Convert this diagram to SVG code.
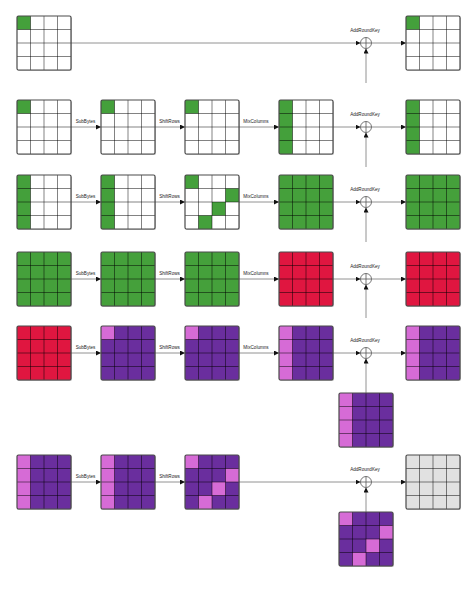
<svg xmlns="http://www.w3.org/2000/svg" xmlns:xlink="http://www.w3.org/1999/xlink" width="474" height="603" viewBox="0 0 474 603">
<style>
.w{fill:#ffffff}.g{fill:#44a03b}.r{fill:#e0163f}.p{fill:#6a2d9e}.k{fill:#d66bd6}.s{fill:#e1e1e1}
.base{filter:url(#sh)}
.lbl{font-family:"Liberation Sans",Arial,sans-serif;font-size:4.6px;fill:#222;text-anchor:middle}
.c{stroke:#777;stroke-width:0.8;fill:none}
.x{fill:#fff;stroke:#555;stroke-width:0.8}
</style>
<defs>
<filter id="sh" x="-10%" y="-10%" width="125%" height="125%"><feDropShadow dx="0.6" dy="0.8" stdDeviation="0.7" flood-color="#000" flood-opacity="0.35"/></filter>
<marker id="ar" viewBox="0 0 10 10" refX="10" refY="5" markerWidth="5" markerHeight="5" markerUnits="userSpaceOnUse" orient="auto"><path d="M0,0L10,5L0,10z" fill="#111"/></marker>
<g id="L"><path d="M13.5,0V54M27,0V54M40.5,0V54M0,13.5H54M0,27H54M0,40.5H54" stroke="#000" stroke-opacity="0.55" stroke-width="0.9" fill="none"/><rect x="0" y="0" width="54" height="54" rx="1.5" fill="none" stroke="#4a4a4a" stroke-width="1.2"/></g>
<path id="xo" d="M-5.5,0H5.5M0,-5.5V5.5" stroke="#555" stroke-width="0.8"/>
</defs>

<g id="connectors">
<!-- row 1 -->
<path class="c" d="M71,43H360.5" marker-end="url(#ar)"/>
<path class="c" d="M371.5,43H406" marker-end="url(#ar)"/>
<path class="c" d="M366,83V48.5" marker-end="url(#ar)"/>
<!-- row 2 -->
<path class="c" d="M71,127H101" marker-end="url(#ar)"/>
<path class="c" d="M155,127H185" marker-end="url(#ar)"/>
<path class="c" d="M239,127H279" marker-end="url(#ar)"/>
<path class="c" d="M333,127H360.5" marker-end="url(#ar)"/>
<path class="c" d="M371.5,127H406" marker-end="url(#ar)"/>
<path class="c" d="M366,167V132.5" marker-end="url(#ar)"/>
<!-- row 3 -->
<path class="c" d="M71,202H101" marker-end="url(#ar)"/>
<path class="c" d="M155,202H185" marker-end="url(#ar)"/>
<path class="c" d="M239,202H279" marker-end="url(#ar)"/>
<path class="c" d="M333,202H360.5" marker-end="url(#ar)"/>
<path class="c" d="M371.5,202H406" marker-end="url(#ar)"/>
<path class="c" d="M366,242V207.5" marker-end="url(#ar)"/>
<!-- row 4 -->
<path class="c" d="M71,279H101" marker-end="url(#ar)"/>
<path class="c" d="M155,279H185" marker-end="url(#ar)"/>
<path class="c" d="M239,279H279" marker-end="url(#ar)"/>
<path class="c" d="M333,279H360.5" marker-end="url(#ar)"/>
<path class="c" d="M371.5,279H406" marker-end="url(#ar)"/>
<path class="c" d="M366,318V284.5" marker-end="url(#ar)"/>
<!-- row 5 -->
<path class="c" d="M71,353H101" marker-end="url(#ar)"/>
<path class="c" d="M155,353H185" marker-end="url(#ar)"/>
<path class="c" d="M239,353H279" marker-end="url(#ar)"/>
<path class="c" d="M333,353H360.5" marker-end="url(#ar)"/>
<path class="c" d="M371.5,353H406" marker-end="url(#ar)"/>
<path class="c" d="M366,393V358.5" marker-end="url(#ar)"/>
<!-- row 6 -->
<path class="c" d="M71,482H101" marker-end="url(#ar)"/>
<path class="c" d="M155,482H185" marker-end="url(#ar)"/>
<path class="c" d="M239,482H360.5" marker-end="url(#ar)"/>
<path class="c" d="M371.5,482H406" marker-end="url(#ar)"/>
<path class="c" d="M366,512V487.5" marker-end="url(#ar)"/>
</g>

<g id="labels">
<text class="lbl" x="85.5" y="122.5">SubBytes</text>
<text class="lbl" x="169.5" y="122.5">ShiftRows</text>
<text class="lbl" x="256" y="122.5">MixColumns</text>
<text class="lbl" x="85.5" y="197.5">SubBytes</text>
<text class="lbl" x="169.5" y="197.5">ShiftRows</text>
<text class="lbl" x="256" y="197.5">MixColumns</text>
<text class="lbl" x="85.5" y="274.5">SubBytes</text>
<text class="lbl" x="169.5" y="274.5">ShiftRows</text>
<text class="lbl" x="256" y="274.5">MixColumns</text>
<text class="lbl" x="85.5" y="348.5">SubBytes</text>
<text class="lbl" x="169.5" y="348.5">ShiftRows</text>
<text class="lbl" x="256" y="348.5">MixColumns</text>
<text class="lbl" x="85.5" y="477.5">SubBytes</text>
<text class="lbl" x="169.5" y="477.5">ShiftRows</text>
<text class="lbl" x="365" y="32">AddRoundKey</text>
<text class="lbl" x="365" y="116">AddRoundKey</text>
<text class="lbl" x="365" y="191">AddRoundKey</text>
<text class="lbl" x="365" y="268">AddRoundKey</text>
<text class="lbl" x="365" y="342">AddRoundKey</text>
<text class="lbl" x="365" y="471">AddRoundKey</text>
</g>

<g id="xor1" transform="translate(366,43)"><circle class="x" r="5.5"/><use href="#xo"/></g>
<g id="xor2" transform="translate(366,127)"><circle class="x" r="5.5"/><use href="#xo"/></g>
<g id="xor3" transform="translate(366,202)"><circle class="x" r="5.5"/><use href="#xo"/></g>
<g id="xor4" transform="translate(366,279)"><circle class="x" r="5.5"/><use href="#xo"/></g>
<g id="xor5" transform="translate(366,353)"><circle class="x" r="5.5"/><use href="#xo"/></g>
<g id="xor6" transform="translate(366,482)"><circle class="x" r="5.5"/><use href="#xo"/></g>

<!-- Row 1 -->
<g id="r1-input" transform="translate(17,16)"><rect class="w base" width="54" height="54" rx="1.5"/><rect class="g" width="13.5" height="13.5"/><use href="#L"/></g>
<g id="r1-output" transform="translate(406,16)"><rect class="w base" width="54" height="54" rx="1.5"/><rect class="g" width="13.5" height="13.5"/><use href="#L"/></g>

<!-- Row 2 -->
<g id="r2-input" transform="translate(17,100)"><rect class="w base" width="54" height="54" rx="1.5"/><rect class="g" width="13.5" height="13.5"/><use href="#L"/></g>
<g id="r2-subbytes" transform="translate(101,100)"><rect class="w base" width="54" height="54" rx="1.5"/><rect class="g" width="13.5" height="13.5"/><use href="#L"/></g>
<g id="r2-shiftrows" transform="translate(185,100)"><rect class="w base" width="54" height="54" rx="1.5"/><rect class="g" width="13.5" height="13.5"/><use href="#L"/></g>
<g id="r2-mixcolumns" transform="translate(279,100)"><rect class="w base" width="54" height="54" rx="1.5"/><rect class="g" width="13.5" height="54"/><use href="#L"/></g>
<g id="r2-output" transform="translate(406,100)"><rect class="w base" width="54" height="54" rx="1.5"/><rect class="g" width="13.5" height="54"/><use href="#L"/></g>

<!-- Row 3 -->
<g id="r3-input" transform="translate(17,175)"><rect class="w base" width="54" height="54" rx="1.5"/><rect class="g" width="13.5" height="54"/><use href="#L"/></g>
<g id="r3-subbytes" transform="translate(101,175)"><rect class="w base" width="54" height="54" rx="1.5"/><rect class="g" width="13.5" height="54"/><use href="#L"/></g>
<g id="r3-shiftrows" transform="translate(185,175)"><rect class="w base" width="54" height="54" rx="1.5"/><rect class="g" x="0" y="0" width="13.5" height="13.5"/><rect class="g" x="40.5" y="13.5" width="13.5" height="13.5"/><rect class="g" x="27" y="27" width="13.5" height="13.5"/><rect class="g" x="13.5" y="40.5" width="13.5" height="13.5"/><use href="#L"/></g>
<g id="r3-mixcolumns" transform="translate(279,175)"><rect class="g base" width="54" height="54" rx="1.5"/><use href="#L"/></g>
<g id="r3-output" transform="translate(406,175)"><rect class="g base" width="54" height="54" rx="1.5"/><use href="#L"/></g>

<!-- Row 4 -->
<g id="r4-input" transform="translate(17,252)"><rect class="g base" width="54" height="54" rx="1.5"/><use href="#L"/></g>
<g id="r4-subbytes" transform="translate(101,252)"><rect class="g base" width="54" height="54" rx="1.5"/><use href="#L"/></g>
<g id="r4-shiftrows" transform="translate(185,252)"><rect class="g base" width="54" height="54" rx="1.5"/><use href="#L"/></g>
<g id="r4-mixcolumns" transform="translate(279,252)"><rect class="r base" width="54" height="54" rx="1.5"/><use href="#L"/></g>
<g id="r4-output" transform="translate(406,252)"><rect class="r base" width="54" height="54" rx="1.5"/><use href="#L"/></g>

<!-- Row 5 -->
<g id="r5-input" transform="translate(17,326)"><rect class="r base" width="54" height="54" rx="1.5"/><use href="#L"/></g>
<g id="r5-subbytes" transform="translate(101,326)"><rect class="p base" width="54" height="54" rx="1.5"/><rect class="k" width="13.5" height="13.5"/><use href="#L"/></g>
<g id="r5-shiftrows" transform="translate(185,326)"><rect class="p base" width="54" height="54" rx="1.5"/><rect class="k" width="13.5" height="13.5"/><use href="#L"/></g>
<g id="r5-mixcolumns" transform="translate(279,326)"><rect class="p base" width="54" height="54" rx="1.5"/><rect class="k" width="13.5" height="54"/><use href="#L"/></g>
<g id="r5-key" transform="translate(339,393)"><rect class="p base" width="54" height="54" rx="1.5"/><rect class="k" width="13.5" height="54"/><use href="#L"/></g>
<g id="r5-output" transform="translate(406,326)"><rect class="p base" width="54" height="54" rx="1.5"/><rect class="k" width="13.5" height="54"/><use href="#L"/></g>

<!-- Row 6 -->
<g id="r6-input" transform="translate(17,455)"><rect class="p base" width="54" height="54" rx="1.5"/><rect class="k" width="13.5" height="54"/><use href="#L"/></g>
<g id="r6-subbytes" transform="translate(101,455)"><rect class="p base" width="54" height="54" rx="1.5"/><rect class="k" width="13.5" height="54"/><use href="#L"/></g>
<g id="r6-shiftrows" transform="translate(185,455)"><rect class="p base" width="54" height="54" rx="1.5"/><rect class="k" x="0" y="0" width="13.5" height="13.5"/><rect class="k" x="40.5" y="13.5" width="13.5" height="13.5"/><rect class="k" x="27" y="27" width="13.5" height="13.5"/><rect class="k" x="13.5" y="40.5" width="13.5" height="13.5"/><use href="#L"/></g>
<g id="r6-key" transform="translate(339,512)"><rect class="p base" width="54" height="54" rx="1.5"/><rect class="k" x="0" y="0" width="13.5" height="13.5"/><rect class="k" x="40.5" y="13.5" width="13.5" height="13.5"/><rect class="k" x="27" y="27" width="13.5" height="13.5"/><rect class="k" x="13.5" y="40.5" width="13.5" height="13.5"/><use href="#L"/></g>
<g id="r6-output" transform="translate(406,455)"><rect class="s base" width="54" height="54" rx="1.5"/><use href="#L"/></g>
</svg>
